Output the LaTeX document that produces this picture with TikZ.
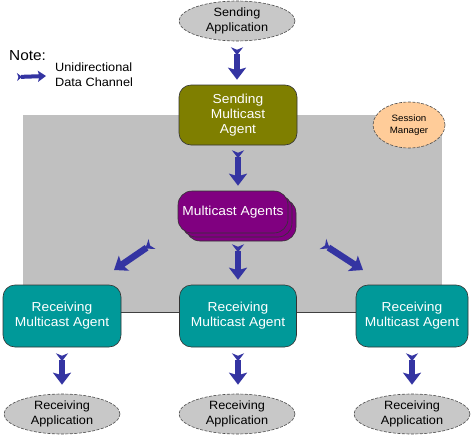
\documentclass[tikz,border=0pt]{standalone}
\usepackage{fontspec}
\setmainfont{Liberation Sans}[FakeStretch=1.06]
\usetikzlibrary{shapes.geometric,arrows.meta,shadows}
\definecolor{panelgrey}{HTML}{C0C0C0}
\definecolor{ellgrey}{HTML}{C8C8C8}
\definecolor{olivebox}{HTML}{7F7F00}
\definecolor{purplebox}{HTML}{800080}
\definecolor{tealbox}{HTML}{009999}
\definecolor{peach}{HTML}{FFCC99}
\definecolor{arrowc}{HTML}{3434A2}
\tikzset{
  appell/.style={ellipse, fill=ellgrey, draw=black!70, dash pattern=on 3pt off 1.5pt, line width=0.6pt,
    minimum width=116pt, minimum height=40pt, inner sep=0pt, align=center,
    font=\fontsize{12}{14.5}\selectfont},
  agentbox/.style={rectangle, rounded corners=12pt, draw=black!80, line width=0.6pt, text=white,
    align=center, inner sep=0pt, font=\fontsize{13}{15}\selectfont},
  flow/.style={draw=arrowc, line width=6.5pt,
    {Stealth[reversed,length=8pt,width=12pt,inset=2.5pt]}-{Stealth[length=12pt,width=18pt,inset=2.5pt]}},
  smallflow/.style={draw=arrowc, line width=4pt,
    {Stealth[reversed,length=5pt,width=8pt,inset=1.5pt]}-{Stealth[length=8pt,width=11pt,inset=1.5pt]}},
}
\begin{document}
\begin{tikzpicture}[x=1pt,y=-1pt]
\useasboundingbox (0,0) rectangle (474,439);
\fill[panelgrey] (23,115) rectangle (442,312);
\draw[black!75, line width=0.6pt] (23,312) -- (442,312);

\node[appell] (sapp) at (237,21) {Sending\\Application};
\node[agentbox, fill=olivebox, minimum width=118pt, minimum height=60pt] (sma) at (238,115) {Sending\\Multicast\\Agent};
\node[ellipse, fill=peach, draw=black!70, dash pattern=on 3pt off 1.5pt, line width=0.6pt,
  minimum width=72pt, minimum height=46pt, inner sep=0pt, align=center,
  font=\fontsize{9.2}{11.5}\selectfont] (sm) at (409,125) {Session\\Manager};
\node[agentbox, fill=purplebox, rounded corners=14pt, minimum width=110pt, minimum height=42pt,
  double copy shadow={shadow xshift=4pt, shadow yshift=-4pt}] (ma) at (233,212) {Multicast Agents};

\node[agentbox, fill=tealbox, minimum width=118pt, minimum height=62pt] (rma1) at (62,316) {Receiving\\Multicast Agent};
\node[agentbox, fill=tealbox, minimum width=117pt, minimum height=62pt] (rma2) at (238,316) {Receiving\\Multicast Agent};
\node[agentbox, fill=tealbox, minimum width=112pt, minimum height=62pt] (rma3) at (412,316) {Receiving\\Multicast Agent};

\node[appell] (ra1) at (62,414) {Receiving\\Application};
\node[appell] (ra2) at (237,414) {Receiving\\Application};
\node[appell] (ra3) at (412,414) {Receiving\\Application};

\node[anchor=base west, font=\fontsize{14.5}{17}\selectfont, inner sep=0pt] (note) at (9,60) {Note:};
\node[anchor=west, align=left, font=\fontsize{12}{15}\selectfont, inner sep=0pt] (legtext) at (55,75) {Unidirectional\\Data Channel};
\coordinate (legs) at (17,77);
\coordinate (lege) at (46,76);
\draw[smallflow] (legs) -- (lege);

\draw[flow, shorten <=6pt, shorten >=5pt] (sapp.south) -- (sapp.south |- sma.north);
\draw[flow, shorten <=5pt, shorten >=5pt] (sma.south) -- (sma.south |- ma.north);
\draw[flow, shorten <=11pt, shorten >=5pt] (ma.south -| sma.south) -- (rma2.north -| sma.south);
\coordinate (d1s) at (152,244);
\coordinate (d1e) at (114,270);
\coordinate (d2s) at (323,244);
\coordinate (d2e) at (363,270);
\draw[flow] (d1s) -- (d1e);
\draw[flow] (d2s) -- (d2e);
\draw[flow, shorten <=6pt, shorten >=9pt] (rma1.south) -- (ra1.north);
\draw[flow, shorten <=6pt, shorten >=9pt] (rma2.south) -- (ra2.north -| rma2.south);
\draw[flow, shorten <=6pt, shorten >=9pt] (rma3.south) -- (ra3.north -| rma3.south);
\end{tikzpicture}
\end{document}
